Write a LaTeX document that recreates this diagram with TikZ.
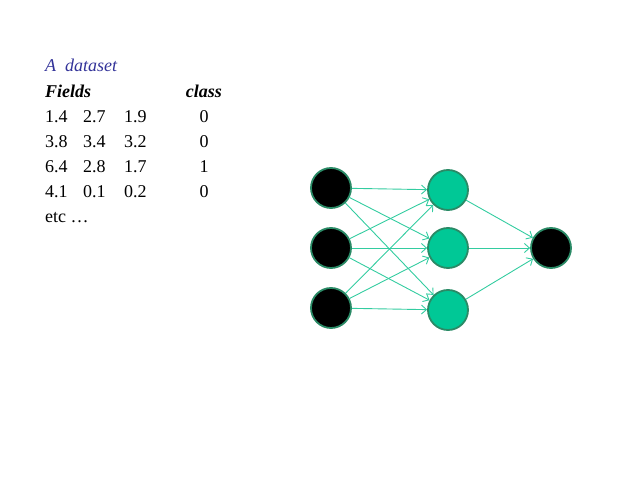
\documentclass[tikz,border=0pt]{standalone}
\usepackage{fontspec}
\setmainfont{Liberation Serif}
\usetikzlibrary{arrows.meta}
\definecolor{fillg}{HTML}{00C896}
\definecolor{edgeg}{HTML}{2A8A66}
\definecolor{arr}{HTML}{33CCA0}
\definecolor{ttl}{HTML}{333399}
\begin{document}
\begin{tikzpicture}[x=1pt,y=-1pt,
  neu/.style={circle,minimum size=40pt,inner sep=0,line width=1.8pt,draw=edgeg},
  inn/.style={neu,fill=black},
  hid/.style={neu,fill=fillg},
  con/.style={draw=arr,line width=0.9pt,-{Straight Barb[length=5pt,width=9pt]}},
  txt/.style={anchor=base west,inner sep=0,font=\fontsize{18}{18}\selectfont},
  num/.style={anchor=base,inner sep=0,font=\fontsize{18}{18}\selectfont}]
\useasboundingbox (0,0) rectangle (638,478);
\node[inn] (i1) at (331,188) {};
\node[inn] (i2) at (331,248) {};
\node[inn] (i3) at (331,308) {};
\node[hid] (h1) at (448,190) {};
\node[hid] (h2) at (448,248) {};
\node[hid] (h3) at (448,310) {};
\node[inn] (o) at (551,248) {};
\foreach \i in {1,2,3}{\foreach \h in {1,2,3}{\draw[con] (i\i) -- (h\h);}}
\foreach \h in {1,2,3}{\draw[con] (h\h) -- (o);}
\node[txt,text=ttl,font=\fontsize{18}{18}\selectfont\itshape] (t0) at (45,72) {A\ \ dataset};
\node[txt,font=\fontsize{18}{18}\selectfont\bfseries\itshape] (t1) at (45,98) {Fields};
\node[num,anchor=base east,font=\fontsize{18}{18}\selectfont\bfseries\itshape] (tc) at (222,98) {class};
\foreach \a/\b/\c/\d [count=\k] in {1.4/2.7/1.9/0,3.8/3.4/3.2/0,6.4/2.8/1.7/1,4.1/0.1/0.2/0}{
  \node[txt] (a\k) at (45,98+25*\k) {\a};
  \node[txt] (b\k) at (83,98+25*\k) {\b};
  \node[txt] (c\k) at (124,98+25*\k) {\c};
  \node[num] (d\k) at (204,98+25*\k) {\d};
}
\node[txt] (etc) at (45,223) {etc \dots};
\end{tikzpicture}
\end{document}
